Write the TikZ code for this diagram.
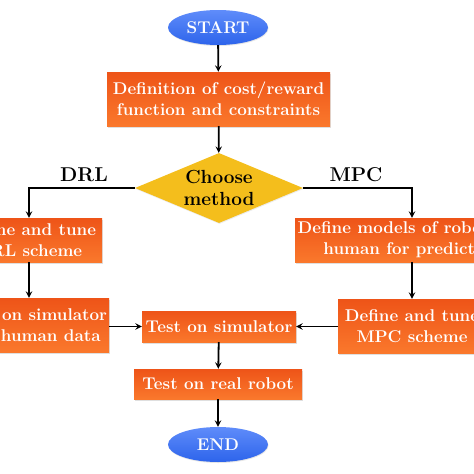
\documentclass[tikz,border=0pt]{standalone}
\usetikzlibrary{shapes.geometric,shadows}
\definecolor{boxtop}{RGB}{238,84,24}
\definecolor{boxbot}{RGB}{250,120,44}
\definecolor{termtop}{RGB}{95,140,250}
\definecolor{termbot}{RGB}{45,100,235}
\definecolor{choicefill}{RGB}{244,190,28}
\begin{document}
\begin{tikzpicture}[>=stealth, x=1pt, y=-1pt,
		font=\fontsize{17}{21}\selectfont\bfseries,
		procbox/.style={rectangle, inner sep=0pt, align=center, text=white,
			top color=boxtop, bottom color=boxbot, drop shadow={opacity=0.25, shadow xshift=1pt, shadow yshift=-1.5pt}},
		termnode/.style={ellipse, inner sep=0pt, text=white, minimum width=100pt, minimum height=35pt,
			top color=termtop, bottom color=termbot, drop shadow={opacity=0.2, shadow xshift=0.5pt, shadow yshift=-1pt}},
		choice/.style={diamond, aspect=2.4, inner sep=-4pt, align=center, fill=choicefill, minimum width=168pt, minimum height=70pt,
			font=\fontsize{19}{22}\selectfont\bfseries, drop shadow={opacity=0.15, shadow xshift=0.5pt, shadow yshift=-1pt}},
		branch/.style={font=\fontsize{20}{24}\selectfont\bfseries},
		flow/.style={->, line width=1.8pt}]
		\useasboundingbox (0,0) rectangle (474,474);
		\clip (0,0) rectangle (474,474);
		% terminals
		\node[termnode] (start) at (218,27.5) {START};
		\node[termnode] (stop) at (218,444.5) {END};
		% main column
		\node[procbox, minimum width=223pt, minimum height=54pt] (cost) at (218.5,99) {Definition of cost/reward\\function and constraints};
		\node[choice] (method) at (219,188) {Choose\\method};
		\node[procbox, minimum width=154pt, minimum height=31pt] (sim) at (219,326.5) {Test on simulator};
		\node[procbox, minimum width=168pt, minimum height=30pt] (real) at (218,384) {Test on real robot};
		% DRL branch
		\node[procbox, minimum width=146pt, minimum height=44pt] (drltune) at (29,240) {Define and tune\\DRL scheme};
		\node[procbox, minimum width=160pt, minimum height=54pt] (drltrain) at (29,325) {Train on simulator\\with human data};
		% MPC branch
		\node[procbox, minimum width=234pt, minimum height=44pt] (mpcmodel) at (412,240) {Define models of robot and\\human for prediction};
		\node[procbox, minimum width=148pt, minimum height=54pt] (mpctune) at (412,326) {Define and tune\\MPC scheme};
		% labels
		\node[branch] (drl) at (84,175) {DRL};
		\node[branch] (mpc) at (356,175) {MPC};
		% connectors
		\draw[flow] (start) -- (cost);
		\draw[flow] (cost) -- (method);
		\draw[flow] (method.west) -| (drltune.north);
		\draw[flow] (method.east) -| (mpcmodel.north);
		\draw[flow] (drltune) -- (drltrain);
		\draw[flow] (mpcmodel) -- (mpctune);
		\draw[flow] (drltrain.east |- sim) -- (sim);
		\draw[flow] (mpctune.west |- sim) -- (sim);
		\draw[flow] (sim) -- (real);
		\draw[flow] (real) -- (stop);
	\end{tikzpicture}
\end{document}
